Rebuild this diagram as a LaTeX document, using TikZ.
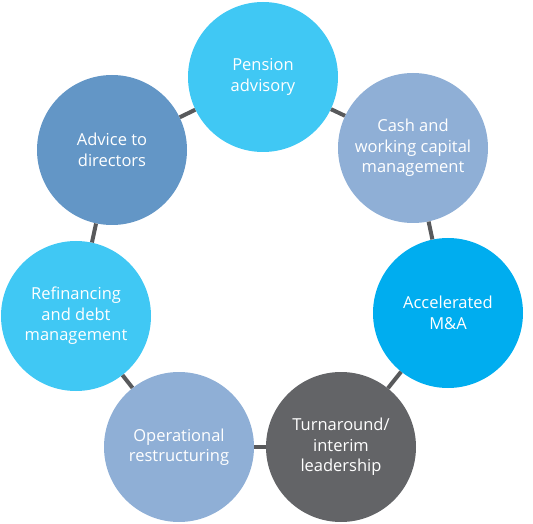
\documentclass[tikz,border=0pt]{standalone}
\usepackage{fontspec}
\setmainfont{Open Sans}
\definecolor{cyanlight}{HTML}{40C8F4}
\definecolor{cyandeep}{HTML}{00ADEF}
\definecolor{bluemid}{HTML}{6396C6}
\definecolor{bluepale}{HTML}{8FAFD6}
\definecolor{greydark}{HTML}{636467}
\definecolor{linkgrey}{HTML}{58595B}
\tikzset{
  service/.style={circle, minimum size=150pt, inner sep=0pt, text=white,
    align=center, font=\fontsize{16.5}{20.5}\selectfont},
  link/.style={linkgrey, line width=4pt}
}
\begin{document}
\begin{tikzpicture}[x=1pt,y=1pt]
  \useasboundingbox (0,0) rectangle (533,523);
  \node[service, fill=cyanlight] (pension) at (263,446) {Pension\\advisory};
  \node[service, fill=bluepale] (cash) at (413,375) {Cash and\\working capital\\management};
  \node[service, fill=cyandeep] (accel) at (448,210) {Accelerated\\M\&A};
  \node[service, fill=greydark] (turn) at (341,76) {Turnaround/\\interim\\leadership};
  \node[service, fill=bluepale] (oper) at (179,76) {Operational\\restructuring};
  \node[service, fill=cyanlight] (refin) at (76,207) {Refinancing\\and debt\\management};
  \node[service, fill=bluemid] (advice) at (112,373) {Advice to\\directors};
  \foreach \a/\b in {pension/cash, cash/accel, accel/turn, turn/oper, oper/refin, refin/advice, advice/pension}
    \draw[link] (\a) -- (\b);
\end{tikzpicture}
\end{document}
